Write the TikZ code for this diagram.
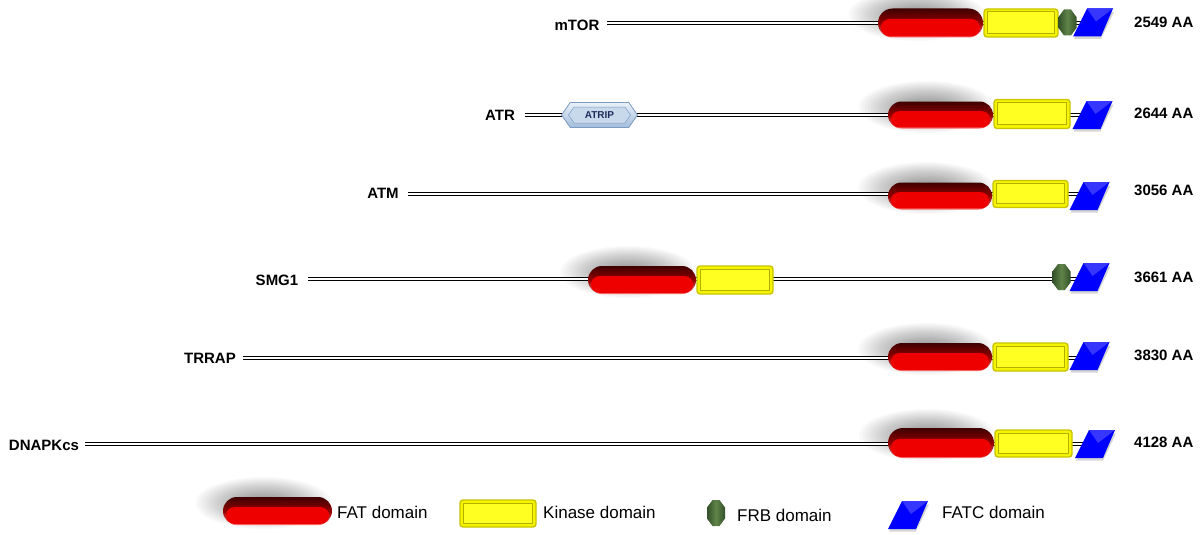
\documentclass[tikz,border=0pt]{standalone}
\usepackage{fontspec}
\setmainfont{Liberation Sans}
\usetikzlibrary{calc,shapes.misc,shapes.symbols}
\definecolor{fatdark}{HTML}{3E0000}
\definecolor{fatmid}{HTML}{940000}
\definecolor{fatlow}{HTML}{FF6A6A}
\definecolor{fatbodyc}{HTML}{EE0000}
\definecolor{kinfill}{HTML}{F4F400}
\definecolor{kinedge}{HTML}{C9C300}
\definecolor{kininnerc}{HTML}{FFFF22}
\definecolor{kinline}{HTML}{B5B000}
\definecolor{frbdark}{HTML}{33502A}
\definecolor{frblight}{HTML}{608448}
\definecolor{fatcblue}{HTML}{0000FF}
\definecolor{fatchi}{HTML}{3636FF}
\definecolor{atriptop}{HTML}{EAF1F9}
\definecolor{atripbot}{HTML}{A2BCDB}
\definecolor{atripedge}{HTML}{7C9CC2}
\definecolor{atripinc}{HTML}{C9D9EC}
\definecolor{atriptext}{HTML}{1C2D5C}
\pgfdeclarelayer{shadowlayer}
\pgfdeclarelayer{linelayer}
\pgfsetlayers{shadowlayer,linelayer,main}
\tikzset{
  fatbox/.style={rounded rectangle, inner sep=0, top color=fatdark, bottom color=fatlow, middle color=fatmid, draw=none},
  fatinner/.style={rounded rectangle, inner sep=0, fill=fatbodyc, draw=none},
  softshadow/.style={fill=black, opacity=0.022},
  kinbox/.style={rectangle, rounded corners=3, inner sep=0, fill=kinfill, draw=kinedge, line width=1.4pt},
  kininner/.style={fill=kininnerc, draw=kinline, line width=0.6pt},
  backbone/.style={draw=black, line width=1.1pt, double=white, double distance=1.3pt},
  lab/.style={inner sep=0, font=\fontsize{15}{18}\selectfont\bfseries},
  legtext/.style={inner sep=0, anchor=west, font=\fontsize{17}{20}\selectfont},
}
\newcommand\FATdom[5][28]{%
  \node[fatbox, minimum width={#4-#3}, minimum height=#1] (#2) at ({(#3+#4)/2},#5) {};
  \begin{pgfonlayer}{shadowlayer}
    \foreach \k in {1,...,16}
      \fill[softshadow] ($(#2.center)+(-14,-8)$) ellipse ({20+3*\k} and {6+1.25*\k});
  \end{pgfonlayer}
  \node[fatinner, minimum width={#4-#3-6}, minimum height={#1*0.6}] (#2in) at ($(#2.center)+(0,{#1*0.16})$) {};
}
\newcommand\KINdom[5][28]{%
  \node[kinbox, minimum width={#4-#3}, minimum height=#1] (#2) at ({(#3+#4)/2},#5) {};
  \draw[kininner] ($(#2.north west)+(3.5,3.5)$) rectangle ($(#2.south east)+(-4.5,-4.5)$);
}
\newcommand\FRBdom[3]{%
  \node[inner sep=0, minimum width=18, minimum height=26] (#1) at (#2,#3) {};
  \shade[left color=frbdark, right color=frbdark, middle color=frblight] ($(#1.center)+(-3.5,-13)$) -- ++(7,0) -- ++(5.5,7.5) -- ++(0,11) -- ++(-5.5,7.5) -- ++(-7,0) -- ++(-5.5,-7.5) -- ++(0,-11) -- cycle;
}
\newcommand\FATCdom[3]{%
  \node[inner sep=0, minimum width=40, minimum height=28] (#1) at (#2,#3) {};
  \begin{pgfonlayer}{shadowlayer}
    \fill[black!16] ($(#1.center)+(-19,16.5)$) -- ++(27,0) -- ++(13,-27) -- ++(-27,0) -- cycle;
  \end{pgfonlayer}
  \fill[fatcblue] ($(#1.center)+(-20,14)$) -- ++(28,0) -- ++(12,-28) -- ++(-26,0) -- cycle;
  \fill[fatchi] ($(#1.center)+(-6,-14)$) -- ++(26,0) -- ($(#1.center)+(3,-1)$) -- cycle;
}
\begin{document}
\begin{tikzpicture}[x=1pt,y=-1pt]
\begin{pgfonlayer}{shadowlayer}
  \fill[white] (0,0) rectangle (1200,535);
\end{pgfonlayer}
\useasboundingbox (0,0) rectangle (1200,535);

% ---------- mTOR ----------
\node[lab] (mtorlab) at (577,25) {mTOR};
\FATdom[29]{mtorfat}{878}{983}{23}
\KINdom{mtorkin}{984}{1058}{23}
\FRBdom{mtorfrb}{1067.5}{22.5}
\FATCdom{mtorfatc}{1093}{22.5}
\node[lab, anchor=west] (mtoraa) at (1134,22) {2549 AA};
\coordinate (mtorstart) at (607,23);

% ---------- ATR ----------
\node[lab] (atrlab) at (500,115) {ATR};
\node[signal, signal to=east and west, signal pointer angle=110, minimum width=76, minimum height=25, inner sep=0, top color=atriptop, bottom color=atripbot, draw=atripedge, line width=0.8pt] (atrip) at (599.5,115) {};
\node[signal, signal to=east and west, signal pointer angle=110, minimum width=62, minimum height=16, inner sep=0, fill=atripinc, draw=atripedge, line width=0.5pt, text=atriptext, font=\fontsize{10}{11}\selectfont\bfseries] (atripin) at (599.5,115) {ATRIP};
\FATdom[27]{atrfat}{888}{993}{115}
\KINdom[29]{atrkin}{994}{1070}{114}
\FATCdom{atrfatc}{1092.5}{115}
\node[lab, anchor=west] (atraa) at (1134,113) {2644 AA};
\coordinate (atrstart) at (525,115);

% ---------- ATM ----------
\node[lab] (atmlab) at (383,193) {ATM};
\FATdom[27]{atmfat}{888}{992}{196}
\KINdom[27]{atmkin}{993}{1068}{194}
\FATCdom{atmfatc}{1089.5}{196}
\node[lab, anchor=west] (atmaa) at (1134,190) {3056 AA};
\coordinate (atmstart) at (408,194);

% ---------- SMG1 ----------
\node[lab] (smglab) at (277,280) {SMG1};
\FATdom{smgfat}{588}{696}{280}
\KINdom{smgkin}{697}{773}{280}
\FRBdom{smgfrb}{1061.5}{277}
\FATCdom{smgfatc}{1089.5}{277}
\node[lab, anchor=west] (smgaa) at (1134,277) {3661 AA};
\coordinate (smgstart) at (308,279);

% ---------- TRRAP ----------
\node[lab] (trraplab) at (210,358) {TRRAP};
\FATdom{trrapfat}{888}{992}{357}
\KINdom{trrapkin}{993}{1068}{357}
\FATCdom{trrapfatc}{1089.5}{356}
\node[lab, anchor=west] (trrapaa) at (1134,355) {3830 AA};
\coordinate (trrapstart) at (243,358);

% ---------- DNAPKcs ----------
\node[lab] (dnalab) at (44,445) {DNAPKcs};
\FATdom[30]{dnafat}{888}{994}{443}
\KINdom[27]{dnakin}{995}{1072}{443.5}
\FATCdom{dnafatc}{1095}{444}
\node[lab, anchor=west] (dnaaa) at (1134,442) {4128 AA};
\coordinate (dnastart) at (85,444);

% ---------- backbones ----------
\begin{pgfonlayer}{linelayer}
  \draw[backbone] (mtorstart) -- (mtorstart -| mtorfatc.center);
  \draw[backbone] (atrstart) -- (atrstart -| atrfatc.center);
  \draw[backbone] (atmstart) -- (atmstart -| atmfatc.center);
  \draw[backbone] (smgstart) -- (smgstart -| smgfatc.center);
  \draw[backbone] (trrapstart) -- (trrapstart -| trrapfatc.center);
  \draw[backbone] (dnastart) -- (dnastart -| dnafatc.center);
\end{pgfonlayer}

% ---------- legend ----------
\FATdom{legfat}{223}{332}{511}
\node[legtext] (legfattext) at (337,512) {FAT domain};
\KINdom[27]{legkin}{460}{536}{513.5}
\node[legtext] (legkintext) at (543,512) {Kinase domain};
\FRBdom{legfrb}{716}{513}
\node[legtext] (legfrbtext) at (737,515) {FRB domain};
\FATCdom{legfatc}{908}{515}
\node[legtext] (legfatctext) at (942,512) {FATC domain};
\end{tikzpicture}
\end{document}
